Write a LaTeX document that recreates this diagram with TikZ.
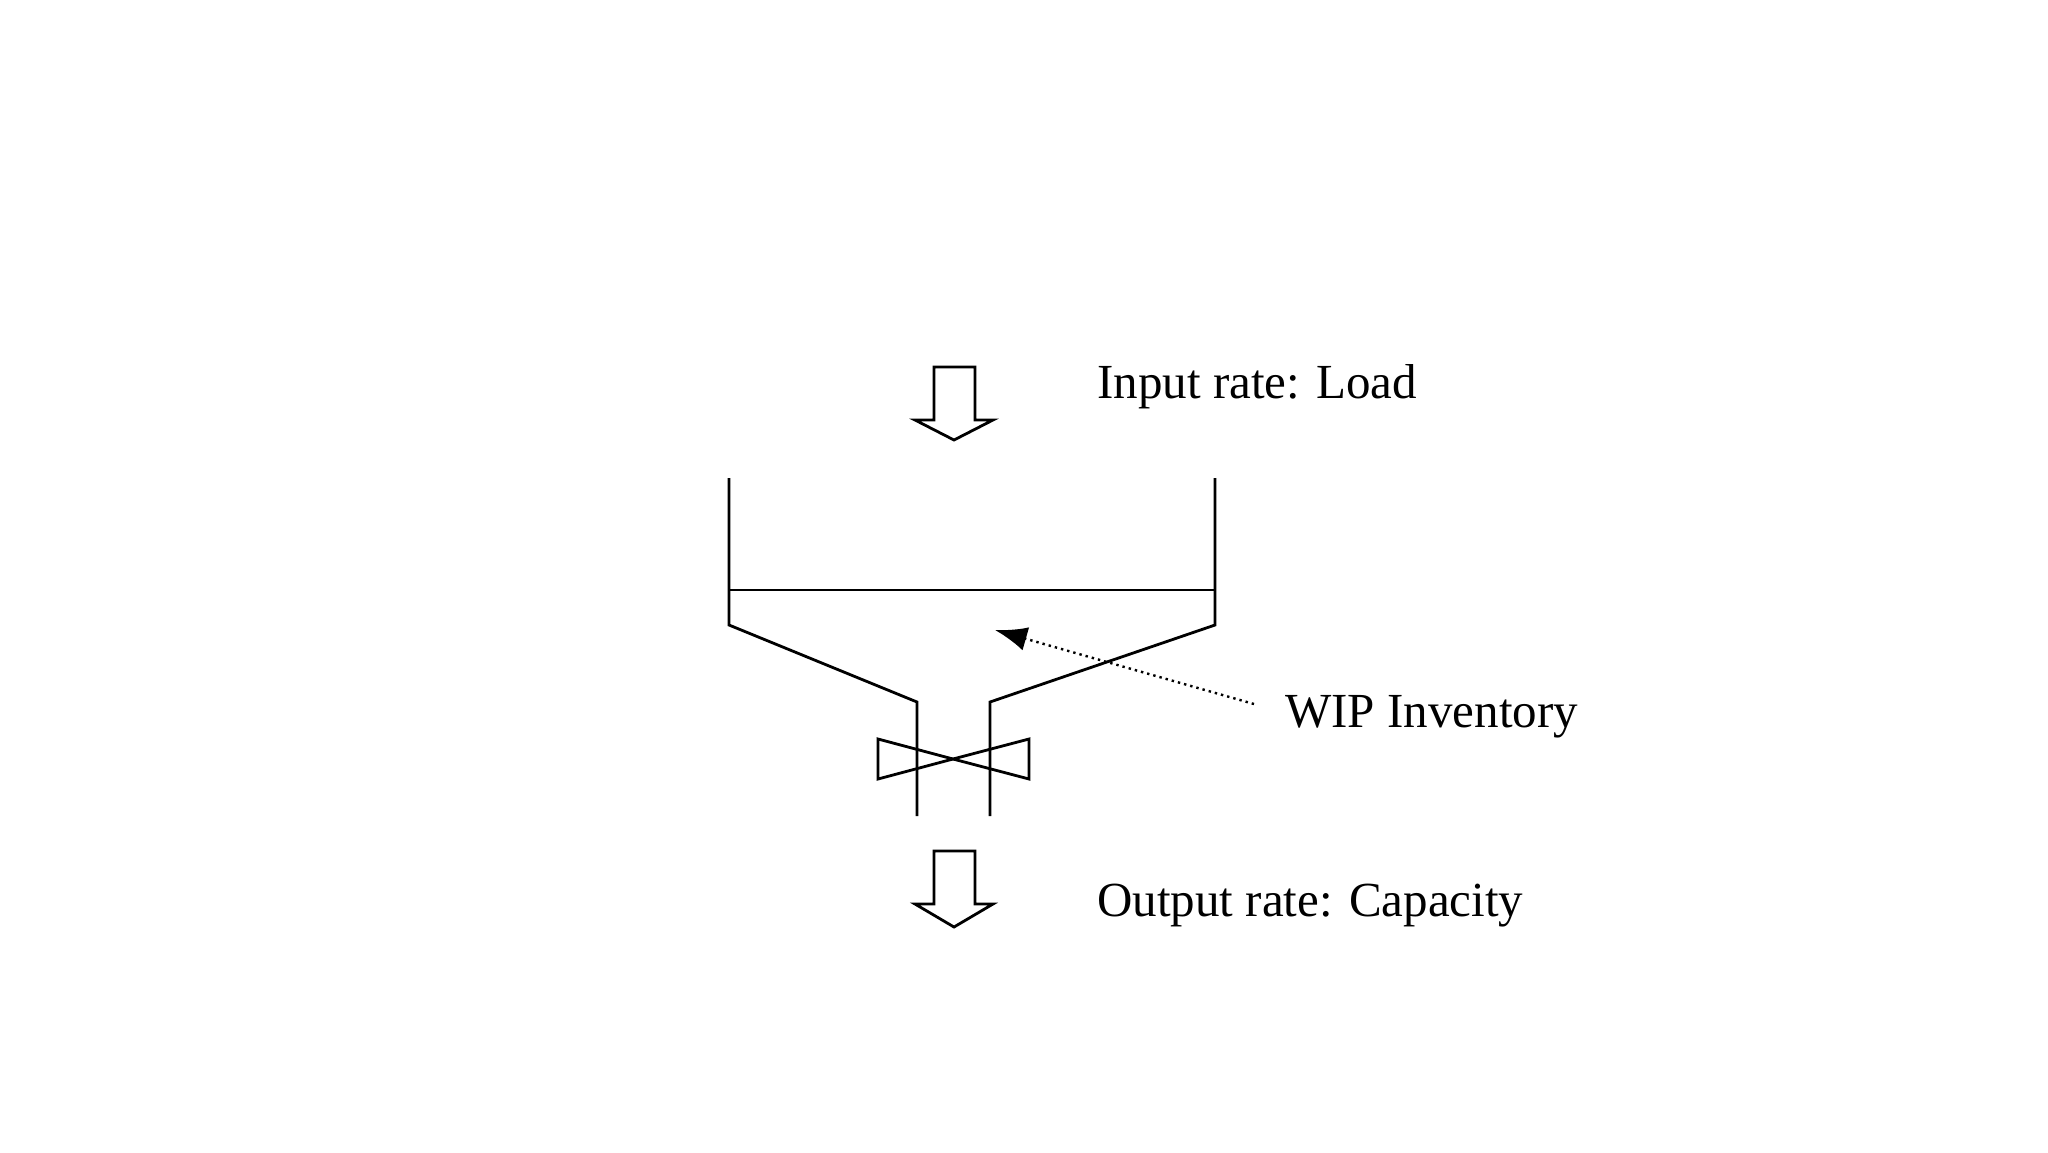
\documentclass[tikz,border=0pt]{standalone}
\usepackage{fontspec}
\setmainfont{Liberation Serif}
\usetikzlibrary{arrows.meta}
\begin{document}
\begin{tikzpicture}[x=0.5pt,y=-0.5pt,line width=1.4pt,
  lbl/.style={anchor=base west,inner sep=0pt,font=\fontsize{24.5}{30}\selectfont},
  fat/.style={draw,line join=miter}]
\useasboundingbox (0,0) rectangle (2048,1152);
\fill[white] (0,0) rectangle (2048,1152);
% input arrow
\draw[fat] (934,367) -- (975,367) -- (975,420) -- (993,420) -- (954,440) -- (915,420) -- (934,420) -- cycle;
\node[lbl] (in) at (1096,398) {Input rate: Load};
% tank
\draw (729,478) -- (729,625) -- (917,702) -- (917,816);
\draw (1215,478) -- (1215,625) -- (990,702) -- (990,816);
\draw (729,590) -- (1215,590);
% valve
\draw[line join=miter] (953,759) -- (878,739) -- (878,779) -- cycle;
\draw[line join=miter] (953,759) -- (1029,739) -- (1029,779) -- cycle;
% output arrow
\draw[fat] (934,851) -- (975,851) -- (975,904) -- (993,904) -- (954,927) -- (915,904) -- (934,904) -- cycle;
\node[lbl] (out) at (1096,916) {Output rate: Capacity};
% WIP
\node[lbl] (wip) at (1284,727) {WIP Inventory};
\coordinate (s) at (1254,704);
\coordinate (tip) at (995,630);
\draw[dotted,line width=1.2pt,-{Latex[length=16pt,width=12pt]}] (s) -- (tip);
\end{tikzpicture}
\end{document}
